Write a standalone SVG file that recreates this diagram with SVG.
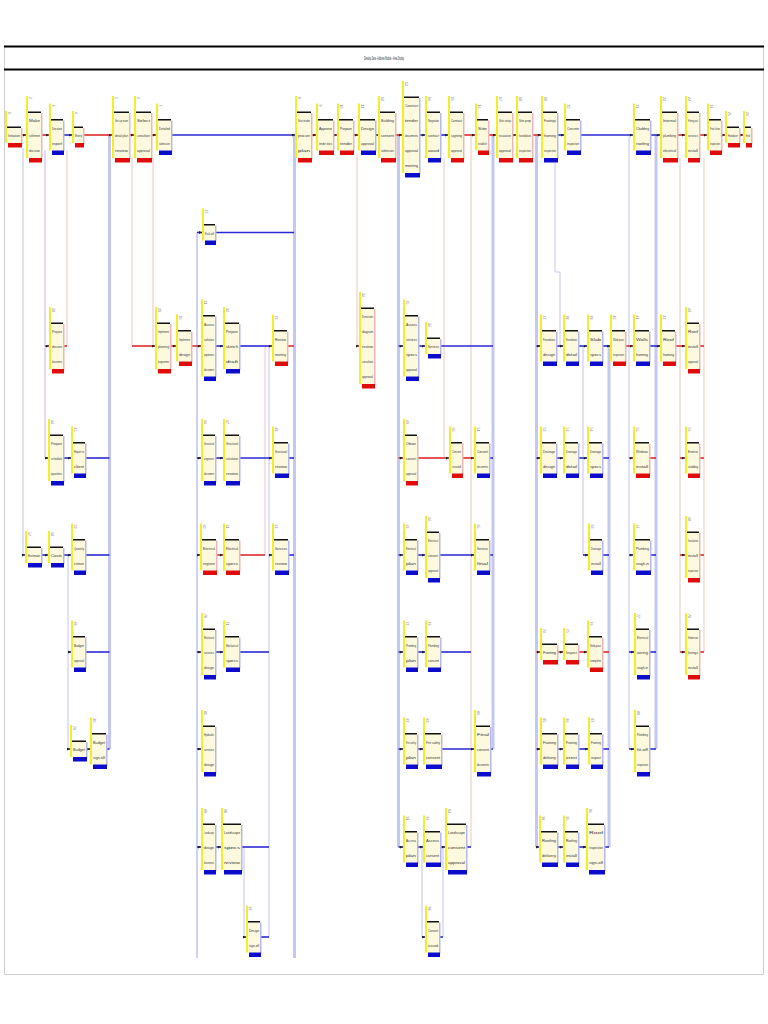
<svg xmlns="http://www.w3.org/2000/svg" width="768" height="1024" viewBox="0 0 768 1024">
<defs>
<style>
.yb{fill:#f2ee2a}.bx{fill:#fcf9df}.tl{fill:#111}.shb{fill:#b6b8e6}.shr{fill:#eab8b8}.br{fill:#e00c0c}.bb{fill:#0c0ccc}
.lb{font-family:"Liberation Sans Narrow","Liberation Sans",sans-serif;font-size:4.2px;fill:#333;text-anchor:middle}
.id{font-family:"Liberation Sans",sans-serif;font-size:3.4px;fill:#777}
.r{stroke:#e02a2a;stroke-width:1.6;fill:none}.b{stroke:#2a2ad2;stroke-width:1.6;fill:none}
.m{marker-end:url(#ah)}
.vb{stroke:#c2c2f0;stroke-width:1;fill:none}.vbt{stroke:#c6c6f2;stroke-width:3;fill:none}.vp{stroke:#f0c2c2;stroke-width:1;fill:none}.vpu{stroke:#d6bee8;stroke-width:1.2;fill:none}
.fr{stroke:#000;stroke-width:2}.fg{stroke:#cfcfcf;stroke-width:1}
.tt{font-family:"Liberation Sans Narrow","Liberation Sans",sans-serif;font-size:6px;fill:#222;text-anchor:middle}
</style>
<marker id="ah" markerWidth="3" markerHeight="3" refX="3" refY="1.5" orient="auto" markerUnits="userSpaceOnUse"><path d="M0,0L3,1.5L0,3z" fill="#222"/></marker>
</defs>
<rect width="768" height="1024" fill="#fff"/>
<g id="frame">
<line class="fg" x1="4.5" y1="46" x2="4.5" y2="975"/>
<line class="fg" x1="763.5" y1="46" x2="763.5" y2="975"/>
<line class="fg" x1="4" y1="974.5" x2="764" y2="974.5"/>
<line class="fr" x1="4" y1="46.5" x2="764" y2="46.5"/>
<line class="fr" x1="4" y1="69.5" x2="764" y2="69.5"/>
<text class="tt" x="384" y="60" textLength="40" lengthAdjust="spacingAndGlyphs">Develop Data - Address Module - Area Display</text>
</g>
<g id="connectors">
<path class="vb" d="M23 148V555"/>
<path class="vpu" d="M45 150V458"/>
<path class="vp" d="M67 150V346"/>
<path class="vb" d="M68 555V749"/>
<path class="vbt" d="M109.5 135V749"/>
<path class="vp" d="M132 158V346"/>
<path class="vp" d="M153 158V346"/>
<path class="vbt" d="M197 232.5V958" style="stroke-width:2;stroke:#d0d0f4"/>
<path class="vp" d="M265 346V555"/>
<path class="vb" d="M269 346V937"/>
<path class="vbt" d="M294.5 135V958"/>
<path class="vp" d="M357 155V346"/>
<path class="vbt" d="M398.5 135V847"/>
<path class="vp" d="M444 158V458"/>
<path class="vb" d="M443 847V937"/>
<path class="vp" d="M471 135V847"/>
<path class="vbt" d="M493 135V749"/>
<path class="vbt" d="M536.5 135V847"/>
<path class="vb" d="M555 163V272H560V346"/>
<path class="vb" d="M583 346V555"/>
<path class="vbt" d="M609 346V847"/>
<path class="vb" d="M629 135V749"/>
<path class="vbt" d="M656 135V749"/>
<path class="vp" d="M680 158V652"/>
<path class="vp" d="M704 158V652"/>
<path class="vb" d="M244 847V937"/>
<path class="vb" d="M422 847V937"/>
<path class="r m" d="M21.5 135H26"/><path class="r m" d="M41.5 135H49"/><path class="b m" d="M63.5 135H72"/><path class="r m" d="M83.5 135H112"/><path class="r m" d="M129.5 135H134"/><path class="r m" d="M151.5 135H156"/><path class="b m" d="M171.5 135H295"/><path class="r m" d="M311.5 135H316"/><path class="r m" d="M333.5 135H337"/><path class="r m" d="M353.5 135H358"/><path class="b m" d="M375.5 135H378"/><path class="r m" d="M395.5 135H402"/><path class="b m" d="M419.5 135H425"/><path class="b m" d="M440.5 135H448"/><path class="r m" d="M463.5 135H475"/><path class="r m" d="M488.5 135H496"/><path class="r m" d="M512.5 135H516"/><path class="r m" d="M532.5 135H541"/><path class="b m" d="M557.5 135H564"/><path class="b m" d="M580.5 135H633"/><path class="b m" d="M650.5 135H660"/><path class="r m" d="M677.5 135H685"/><path class="r m" d="M699.5 135H707"/><path class="r m" d="M721.5 135H725"/><path class="r m" d="M739.5 135H743"/>
<path class="b m" d="M197 232.5H202"/><path class="b" d="M215.5 232.5H294"/>
<path class="r m" d="M45 346H49"/><path class="r" d="M63.5 346H67"/><path class="r m" d="M132 346H155"/><path class="r m" d="M170.5 346H176"/><path class="r m" d="M191.5 346H201"/><path class="b m" d="M215.5 346H223"/><path class="b" d="M239.5 346H269"/><path class="r m" d="M269 346H272"/><path class="r" d="M287.5 346H294"/><path class="r m" d="M357 346H359"/><path class="b m" d="M398.5 346H403"/><path class="b m" d="M418.5 346H425"/><path class="b" d="M440.5 346H493"/><path class="b m" d="M536.5 346H540"/><path class="b m" d="M556.5 346H563"/><path class="b m" d="M578.5 346H587"/><path class="b m" d="M602.5 346H610"/><path class="r m" d="M625.5 346H633"/><path class="b m" d="M649.5 346H660"/><path class="r m" d="M675.5 346H685"/><path class="r" d="M699.5 346H704"/>
<path class="b m" d="M45 458H48"/><path class="b m" d="M63.5 458H71"/><path class="b" d="M85.5 458H109.5"/><path class="b m" d="M197 458H201"/><path class="b m" d="M215.5 458H223"/><path class="b m" d="M239.5 458H272"/><path class="b" d="M288.5 458H294"/><path class="r m" d="M398.5 458H403"/><path class="r m" d="M417.5 458H449"/><path class="r m" d="M462.5 458H474"/><path class="b" d="M489.5 458H493"/><path class="b m" d="M536.5 458H540"/><path class="b m" d="M556.5 458H563"/><path class="b m" d="M578.5 458H587"/><path class="b" d="M602.5 458H609"/><path class="r m" d="M629 458H633"/><path class="r" d="M649.5 458H656"/><path class="r m" d="M680 458H685"/><path class="r" d="M699.5 458H704"/>
<path class="b m" d="M23 555H25"/><path class="b m" d="M41.5 555H48"/><path class="b m" d="M63.5 555H71"/><path class="b" d="M85.5 555H109.5"/><path class="r m" d="M197 555H200"/><path class="r m" d="M216.5 555H223"/><path class="r" d="M239.5 555H265"/><path class="b m" d="M269 555H272"/><path class="b" d="M288.5 555H294"/><path class="b m" d="M398.5 555H403"/><path class="b m" d="M417.5 555H425"/><path class="b m" d="M439.5 555H474"/><path class="b" d="M489.5 555H493"/><path class="b m" d="M583 555H588"/><path class="b" d="M602.5 555H609"/><path class="b m" d="M629 555H633"/><path class="b" d="M650.5 555H656"/><path class="r m" d="M680 555H685"/><path class="r" d="M699.5 555H704"/>
<path class="b m" d="M68 652H71"/><path class="b" d="M85.5 652H109.5"/><path class="b m" d="M197 652H201"/><path class="b m" d="M215.5 652H223"/><path class="b" d="M239.5 652H269"/><path class="b m" d="M398.5 652H403"/><path class="b m" d="M417.5 652H425"/><path class="b" d="M440.5 652H471"/><path class="r m" d="M536.5 652H540"/><path class="r m" d="M557.5 652H563"/><path class="r m" d="M578.5 652H587"/><path class="r" d="M602.5 652H609"/><path class="b m" d="M629 652H634"/><path class="b" d="M649.5 652H656"/><path class="r m" d="M680 652H685"/><path class="r" d="M699.5 652H704"/>
<path class="b m" d="M68 749H70"/><path class="b m" d="M86.5 749H90"/><path class="b" d="M106.5 749H109.5"/><path class="b m" d="M197 749H201"/><path class="b m" d="M398.5 749H403"/><path class="b m" d="M417.5 749H423"/><path class="b m" d="M441.5 749H474"/><path class="b" d="M490.5 749H493"/><path class="b m" d="M536.5 749H540"/><path class="b m" d="M557.5 749H563"/><path class="b m" d="M578.5 749H588"/><path class="b" d="M602.5 749H609"/><path class="b m" d="M629 749H634"/><path class="b" d="M649.5 749H656"/>
<path class="b m" d="M197 847H201"/><path class="b m" d="M215.5 847H221"/><path class="b" d="M241.5 847H269"/><path class="b m" d="M398.5 847H403"/><path class="b m" d="M417.5 847H423"/><path class="b m" d="M440.5 847H445"/><path class="b" d="M466.5 847H471"/><path class="b m" d="M536.5 847H539"/><path class="b m" d="M557.5 847H563"/><path class="b m" d="M578.5 847H586"/><path class="b" d="M604.5 847H609"/>
<path class="b m" d="M244 937H246"/><path class="b" d="M260.5 937H269"/><path class="b m" d="M422 937H425"/><path class="b" d="M439.5 937H443"/>
</g>
<g id="n1"><rect class="yb" x="5" y="111" width="2" height="32"/><rect class="bx" x="7" y="127" width="14" height="16"/><rect class="shr" x="21" y="128" width="1.5" height="16"/><rect class="tl" x="7" y="126.5" width="14" height="1.5"/><rect class="br" x="8" y="143" width="14" height="4.5"/><text class="id" transform="translate(7.5,112) rotate(90)">1</text><text class="lb" x="14" y="137" textLength="12" lengthAdjust="spacingAndGlyphs">Initiation</text></g>
<g id="n2"><rect class="yb" x="26" y="96" width="2" height="62"/><rect class="bx" x="28" y="112" width="13" height="46"/><rect class="shr" x="41" y="113" width="1.5" height="46"/><rect class="tl" x="28" y="111.5" width="13" height="1.5"/><rect class="br" x="29" y="158" width="13" height="4.5"/><text class="id" transform="translate(28.5,97) rotate(90)">2</text><text class="lb" x="34.5" y="122" textLength="11" lengthAdjust="spacingAndGlyphs">Make</text><text class="lb" x="34.5" y="137" textLength="11" lengthAdjust="spacingAndGlyphs">settlement</text><text class="lb" x="34.5" y="152" textLength="11" lengthAdjust="spacingAndGlyphs">decision</text></g>
<g id="n3"><rect class="yb" x="49" y="103.5" width="2" height="47"/><rect class="bx" x="51" y="119.5" width="12" height="31"/><rect class="shb" x="63" y="120.5" width="1.5" height="31"/><rect class="tl" x="51" y="119" width="12" height="1.5"/><rect class="bb" x="52" y="150.5" width="12" height="4.5"/><text class="id" transform="translate(51.5,104.5) rotate(90)">3</text><text class="lb" x="57" y="129.5" textLength="10" lengthAdjust="spacingAndGlyphs">Decision</text><text class="lb" x="57" y="144.5" textLength="10" lengthAdjust="spacingAndGlyphs">report</text></g>
<g id="n4"><rect class="yb" x="72" y="111" width="2" height="32"/><rect class="bx" x="74" y="127" width="9" height="16"/><rect class="shr" x="83" y="128" width="1.5" height="16"/><rect class="tl" x="74" y="126.5" width="9" height="1.5"/><rect class="br" x="75" y="143" width="9" height="4.5"/><text class="id" transform="translate(74.5,112) rotate(90)">4</text><text class="lb" x="78.5" y="137" textLength="7" lengthAdjust="spacingAndGlyphs">Meeting</text></g>
<g id="n5"><rect class="yb" x="112" y="96" width="2" height="62"/><rect class="bx" x="114" y="112" width="15" height="46"/><rect class="shr" x="129" y="113" width="1.5" height="46"/><rect class="tl" x="114" y="111.5" width="15" height="1.5"/><rect class="br" x="115" y="158" width="15" height="4.5"/><text class="id" transform="translate(114.5,97) rotate(90)">5</text><text class="lb" x="121.5" y="122" textLength="13" lengthAdjust="spacingAndGlyphs">Set up team</text><text class="lb" x="121.5" y="137" textLength="13" lengthAdjust="spacingAndGlyphs">detail plan</text><text class="lb" x="121.5" y="152" textLength="13" lengthAdjust="spacingAndGlyphs">review</text></g>
<g id="n6"><rect class="yb" x="134" y="96" width="2" height="62"/><rect class="bx" x="136" y="112" width="15" height="46"/><rect class="shr" x="151" y="113" width="1.5" height="46"/><rect class="tl" x="136" y="111.5" width="15" height="1.5"/><rect class="br" x="137" y="158" width="15" height="4.5"/><text class="id" transform="translate(136.5,97) rotate(90)">6</text><text class="lb" x="143.5" y="122" textLength="13" lengthAdjust="spacingAndGlyphs">Select</text><text class="lb" x="143.5" y="137" textLength="13" lengthAdjust="spacingAndGlyphs">consultant</text><text class="lb" x="143.5" y="152" textLength="13" lengthAdjust="spacingAndGlyphs">approval</text></g>
<g id="n7"><rect class="yb" x="156" y="103.5" width="2" height="47"/><rect class="bx" x="158" y="119.5" width="13" height="31"/><rect class="shb" x="171" y="120.5" width="1.5" height="31"/><rect class="tl" x="158" y="119" width="13" height="1.5"/><rect class="bb" x="159" y="150.5" width="13" height="4.5"/><text class="id" transform="translate(158.5,104.5) rotate(90)">7</text><text class="lb" x="164.5" y="129.5" textLength="11" lengthAdjust="spacingAndGlyphs">Detailed</text><text class="lb" x="164.5" y="144.5" textLength="11" lengthAdjust="spacingAndGlyphs">submission</text></g>
<g id="n8"><rect class="yb" x="295" y="96" width="2" height="62"/><rect class="bx" x="297" y="112" width="14" height="46"/><rect class="shr" x="311" y="113" width="1.5" height="46"/><rect class="tl" x="297" y="111.5" width="14" height="1.5"/><rect class="br" x="298" y="158" width="14" height="4.5"/><text class="id" transform="translate(297.5,97) rotate(90)">8</text><text class="lb" x="304" y="122" textLength="12" lengthAdjust="spacingAndGlyphs">Start tender</text><text class="lb" x="304" y="137" textLength="12" lengthAdjust="spacingAndGlyphs">procure</text><text class="lb" x="304" y="152" textLength="12" lengthAdjust="spacingAndGlyphs">plan</text></g>
<g id="n9"><rect class="yb" x="316" y="103.5" width="2" height="47"/><rect class="bx" x="318" y="119.5" width="15" height="31"/><rect class="shr" x="333" y="120.5" width="1.5" height="31"/><rect class="tl" x="318" y="119" width="15" height="1.5"/><rect class="br" x="319" y="150.5" width="15" height="4.5"/><text class="id" transform="translate(318.5,104.5) rotate(90)">9</text><text class="lb" x="325.5" y="129.5" textLength="13" lengthAdjust="spacingAndGlyphs">Approve</text><text class="lb" x="325.5" y="144.5" textLength="13" lengthAdjust="spacingAndGlyphs">tender docs</text></g>
<g id="n10"><rect class="yb" x="337" y="103.5" width="2" height="47"/><rect class="bx" x="339" y="119.5" width="14" height="31"/><rect class="shr" x="353" y="120.5" width="1.5" height="31"/><rect class="tl" x="339" y="119" width="14" height="1.5"/><rect class="br" x="340" y="150.5" width="14" height="4.5"/><text class="id" transform="translate(339.5,104.5) rotate(90)">10</text><text class="lb" x="346" y="129.5" textLength="12" lengthAdjust="spacingAndGlyphs">Prepare</text><text class="lb" x="346" y="144.5" textLength="12" lengthAdjust="spacingAndGlyphs">tender</text></g>
<g id="n11"><rect class="yb" x="358" y="103.5" width="2" height="47"/><rect class="bx" x="360" y="119.5" width="15" height="31"/><rect class="shb" x="375" y="120.5" width="1.5" height="31"/><rect class="tl" x="360" y="119" width="15" height="1.5"/><rect class="bb" x="361" y="150.5" width="15" height="4.5"/><text class="id" transform="translate(360.5,104.5) rotate(90)">11</text><text class="lb" x="367.5" y="129.5" textLength="13" lengthAdjust="spacingAndGlyphs">Design</text><text class="lb" x="367.5" y="144.5" textLength="13" lengthAdjust="spacingAndGlyphs">approval</text></g>
<g id="n12"><rect class="yb" x="378" y="96" width="2" height="62"/><rect class="bx" x="380" y="112" width="15" height="46"/><rect class="shr" x="395" y="113" width="1.5" height="46"/><rect class="tl" x="380" y="111.5" width="15" height="1.5"/><rect class="br" x="381" y="158" width="15" height="4.5"/><text class="id" transform="translate(380.5,97) rotate(90)">12</text><text class="lb" x="387.5" y="122" textLength="13" lengthAdjust="spacingAndGlyphs">Building</text><text class="lb" x="387.5" y="137" textLength="13" lengthAdjust="spacingAndGlyphs">consent</text><text class="lb" x="387.5" y="152" textLength="13" lengthAdjust="spacingAndGlyphs">submission</text></g>
<g id="n13"><rect class="yb" x="402" y="81" width="2" height="92"/><rect class="bx" x="404" y="97" width="15" height="76"/><rect class="shb" x="419" y="98" width="1.5" height="76"/><rect class="tl" x="404" y="96.5" width="15" height="1.5"/><rect class="bb" x="405" y="173" width="15" height="4.5"/><text class="id" transform="translate(404.5,82) rotate(90)">13</text><text class="lb" x="411.5" y="107" textLength="13" lengthAdjust="spacingAndGlyphs">Construct</text><text class="lb" x="411.5" y="122" textLength="13" lengthAdjust="spacingAndGlyphs">tender</text><text class="lb" x="411.5" y="137" textLength="13" lengthAdjust="spacingAndGlyphs">documents</text><text class="lb" x="411.5" y="152" textLength="13" lengthAdjust="spacingAndGlyphs">approval</text><text class="lb" x="411.5" y="167" textLength="13" lengthAdjust="spacingAndGlyphs">meeting</text></g>
<g id="n14"><rect class="yb" x="425" y="96" width="2" height="62"/><rect class="bx" x="427" y="112" width="13" height="46"/><rect class="shb" x="440" y="113" width="1.5" height="46"/><rect class="tl" x="427" y="111.5" width="13" height="1.5"/><rect class="bb" x="428" y="158" width="13" height="4.5"/><text class="id" transform="translate(427.5,97) rotate(90)">14</text><text class="lb" x="433.5" y="122" textLength="11" lengthAdjust="spacingAndGlyphs">Negotiate</text><text class="lb" x="433.5" y="137" textLength="11" lengthAdjust="spacingAndGlyphs">contract</text><text class="lb" x="433.5" y="152" textLength="11" lengthAdjust="spacingAndGlyphs">award</text></g>
<g id="n15"><rect class="yb" x="448" y="96" width="2" height="62"/><rect class="bx" x="450" y="112" width="13" height="46"/><rect class="shr" x="463" y="113" width="1.5" height="46"/><rect class="tl" x="450" y="111.5" width="13" height="1.5"/><rect class="br" x="451" y="158" width="13" height="4.5"/><text class="id" transform="translate(450.5,97) rotate(90)">15</text><text class="lb" x="456.5" y="122" textLength="11" lengthAdjust="spacingAndGlyphs">Contract</text><text class="lb" x="456.5" y="137" textLength="11" lengthAdjust="spacingAndGlyphs">signing</text><text class="lb" x="456.5" y="152" textLength="11" lengthAdjust="spacingAndGlyphs">approval</text></g>
<g id="n16"><rect class="yb" x="475" y="103.5" width="2" height="47"/><rect class="bx" x="477" y="119.5" width="11" height="31"/><rect class="shr" x="488" y="120.5" width="1.5" height="31"/><rect class="tl" x="477" y="119" width="11" height="1.5"/><rect class="br" x="478" y="150.5" width="11" height="4.5"/><text class="id" transform="translate(477.5,104.5) rotate(90)">16</text><text class="lb" x="482.5" y="129.5" textLength="9" lengthAdjust="spacingAndGlyphs">Site</text><text class="lb" x="482.5" y="144.5" textLength="9" lengthAdjust="spacingAndGlyphs">establish</text></g>
<g id="n17"><rect class="yb" x="496" y="96" width="2" height="62"/><rect class="bx" x="498" y="112" width="14" height="46"/><rect class="shr" x="512" y="113" width="1.5" height="46"/><rect class="tl" x="498" y="111.5" width="14" height="1.5"/><rect class="br" x="499" y="158" width="14" height="4.5"/><text class="id" transform="translate(498.5,97) rotate(90)">17</text><text class="lb" x="505" y="122" textLength="12" lengthAdjust="spacingAndGlyphs">Site setup</text><text class="lb" x="505" y="137" textLength="12" lengthAdjust="spacingAndGlyphs">excavation</text><text class="lb" x="505" y="152" textLength="12" lengthAdjust="spacingAndGlyphs">approval</text></g>
<g id="n18"><rect class="yb" x="516" y="96" width="2" height="62"/><rect class="bx" x="518" y="112" width="14" height="46"/><rect class="shr" x="532" y="113" width="1.5" height="46"/><rect class="tl" x="518" y="111.5" width="14" height="1.5"/><rect class="br" x="519" y="158" width="14" height="4.5"/><text class="id" transform="translate(518.5,97) rotate(90)">18</text><text class="lb" x="525" y="122" textLength="12" lengthAdjust="spacingAndGlyphs">Site prep</text><text class="lb" x="525" y="137" textLength="12" lengthAdjust="spacingAndGlyphs">foundation</text><text class="lb" x="525" y="152" textLength="12" lengthAdjust="spacingAndGlyphs">inspection</text></g>
<g id="n19"><rect class="yb" x="541" y="96" width="2" height="62"/><rect class="bx" x="543" y="112" width="14" height="46"/><rect class="shb" x="557" y="113" width="1.5" height="46"/><rect class="tl" x="543" y="111.5" width="14" height="1.5"/><rect class="bb" x="544" y="158" width="14" height="4.5"/><text class="id" transform="translate(543.5,97) rotate(90)">19</text><text class="lb" x="550" y="122" textLength="12" lengthAdjust="spacingAndGlyphs">Footings</text><text class="lb" x="550" y="137" textLength="12" lengthAdjust="spacingAndGlyphs">framing</text><text class="lb" x="550" y="152" textLength="12" lengthAdjust="spacingAndGlyphs">inspection</text></g>
<g id="n20"><rect class="yb" x="564" y="103.5" width="2" height="47"/><rect class="bx" x="566" y="119.5" width="14" height="31"/><rect class="shb" x="580" y="120.5" width="1.5" height="31"/><rect class="tl" x="566" y="119" width="14" height="1.5"/><rect class="bb" x="567" y="150.5" width="14" height="4.5"/><text class="id" transform="translate(566.5,104.5) rotate(90)">20</text><text class="lb" x="573" y="129.5" textLength="12" lengthAdjust="spacingAndGlyphs">Concrete</text><text class="lb" x="573" y="144.5" textLength="12" lengthAdjust="spacingAndGlyphs">inspection</text></g>
<g id="n21"><rect class="yb" x="633" y="103.5" width="2" height="47"/><rect class="bx" x="635" y="119.5" width="15" height="31"/><rect class="shb" x="650" y="120.5" width="1.5" height="31"/><rect class="tl" x="635" y="119" width="15" height="1.5"/><rect class="bb" x="636" y="150.5" width="15" height="4.5"/><text class="id" transform="translate(635.5,104.5) rotate(90)">21</text><text class="lb" x="642.5" y="129.5" textLength="13" lengthAdjust="spacingAndGlyphs">Cladding</text><text class="lb" x="642.5" y="144.5" textLength="13" lengthAdjust="spacingAndGlyphs">roofing</text></g>
<g id="n22"><rect class="yb" x="660" y="96" width="2" height="62"/><rect class="bx" x="662" y="112" width="15" height="46"/><rect class="shr" x="677" y="113" width="1.5" height="46"/><rect class="tl" x="662" y="111.5" width="15" height="1.5"/><rect class="br" x="663" y="158" width="15" height="4.5"/><text class="id" transform="translate(662.5,97) rotate(90)">22</text><text class="lb" x="669.5" y="122" textLength="13" lengthAdjust="spacingAndGlyphs">Internal</text><text class="lb" x="669.5" y="137" textLength="13" lengthAdjust="spacingAndGlyphs">plumbing</text><text class="lb" x="669.5" y="152" textLength="13" lengthAdjust="spacingAndGlyphs">electrical</text></g>
<g id="n23"><rect class="yb" x="685" y="96" width="2" height="62"/><rect class="bx" x="687" y="112" width="12" height="46"/><rect class="shr" x="699" y="113" width="1.5" height="46"/><rect class="tl" x="687" y="111.5" width="12" height="1.5"/><rect class="br" x="688" y="158" width="12" height="4.5"/><text class="id" transform="translate(687.5,97) rotate(90)">23</text><text class="lb" x="693" y="122" textLength="10" lengthAdjust="spacingAndGlyphs">Fitting out</text><text class="lb" x="693" y="137" textLength="10" lengthAdjust="spacingAndGlyphs">services</text><text class="lb" x="693" y="152" textLength="10" lengthAdjust="spacingAndGlyphs">install</text></g>
<g id="n24"><rect class="yb" x="707" y="103.5" width="2" height="47"/><rect class="bx" x="709" y="119.5" width="12" height="31"/><rect class="shr" x="721" y="120.5" width="1.5" height="31"/><rect class="tl" x="709" y="119" width="12" height="1.5"/><rect class="br" x="710" y="150.5" width="12" height="4.5"/><text class="id" transform="translate(709.5,104.5) rotate(90)">24</text><text class="lb" x="715" y="129.5" textLength="10" lengthAdjust="spacingAndGlyphs">Final clean</text><text class="lb" x="715" y="144.5" textLength="10" lengthAdjust="spacingAndGlyphs">inspection</text></g>
<g id="n25"><rect class="yb" x="725" y="111" width="2" height="32"/><rect class="bx" x="727" y="127" width="12" height="16"/><rect class="shr" x="739" y="128" width="1.5" height="16"/><rect class="tl" x="727" y="126.5" width="12" height="1.5"/><rect class="br" x="728" y="143" width="12" height="4.5"/><text class="id" transform="translate(727.5,112) rotate(90)">25</text><text class="lb" x="733" y="137" textLength="10" lengthAdjust="spacingAndGlyphs">Handover</text></g>
<g id="n26"><rect class="yb" x="743" y="111" width="2" height="32"/><rect class="bx" x="745" y="127" width="6" height="16"/><rect class="shr" x="751" y="128" width="1.5" height="16"/><rect class="tl" x="745" y="126.5" width="6" height="1.5"/><rect class="br" x="746" y="143" width="6" height="4.5"/><text class="id" transform="translate(745.5,112) rotate(90)">26</text><text class="lb" x="748" y="137" textLength="4" lengthAdjust="spacingAndGlyphs">End</text></g>
<g id="n27"><rect class="yb" x="202" y="208.5" width="2" height="32"/><rect class="bx" x="204" y="224.5" width="11" height="16"/><rect class="shb" x="215" y="225.5" width="1.5" height="16"/><rect class="tl" x="204" y="224" width="11" height="1.5"/><rect class="bb" x="205" y="240.5" width="11" height="4.5"/><text class="id" transform="translate(204.5,209.5) rotate(90)">27</text><text class="lb" x="209.5" y="234.5" textLength="9" lengthAdjust="spacingAndGlyphs">Kick-off</text></g>
<g id="n28"><rect class="yb" x="49" y="307" width="2" height="62"/><rect class="bx" x="51" y="323" width="12" height="46"/><rect class="shr" x="63" y="324" width="1.5" height="46"/><rect class="tl" x="51" y="322.5" width="12" height="1.5"/><rect class="br" x="52" y="369" width="12" height="4.5"/><text class="id" transform="translate(51.5,308) rotate(90)">28</text><text class="lb" x="57" y="333" textLength="10" lengthAdjust="spacingAndGlyphs">Prepare</text><text class="lb" x="57" y="348" textLength="10" lengthAdjust="spacingAndGlyphs">decision</text><text class="lb" x="57" y="363" textLength="10" lengthAdjust="spacingAndGlyphs">documents</text></g>
<g id="n29"><rect class="yb" x="155" y="307" width="2" height="62"/><rect class="bx" x="157" y="323" width="13" height="46"/><rect class="shr" x="170" y="324" width="1.5" height="46"/><rect class="tl" x="157" y="322.5" width="13" height="1.5"/><rect class="br" x="158" y="369" width="13" height="4.5"/><text class="id" transform="translate(157.5,308) rotate(90)">29</text><text class="lb" x="163.5" y="333" textLength="11" lengthAdjust="spacingAndGlyphs">Implement</text><text class="lb" x="163.5" y="348" textLength="11" lengthAdjust="spacingAndGlyphs">planning</text><text class="lb" x="163.5" y="363" textLength="11" lengthAdjust="spacingAndGlyphs">programme</text></g>
<g id="n30"><rect class="yb" x="176" y="314.5" width="2" height="47"/><rect class="bx" x="178" y="330.5" width="13" height="31"/><rect class="shr" x="191" y="331.5" width="1.5" height="31"/><rect class="tl" x="178" y="330" width="13" height="1.5"/><rect class="br" x="179" y="361.5" width="13" height="4.5"/><text class="id" transform="translate(178.5,315.5) rotate(90)">30</text><text class="lb" x="184.5" y="340.5" textLength="11" lengthAdjust="spacingAndGlyphs">Implement</text><text class="lb" x="184.5" y="355.5" textLength="11" lengthAdjust="spacingAndGlyphs">design</text></g>
<g id="n31"><rect class="yb" x="201" y="299.5" width="2" height="77"/><rect class="bx" x="203" y="315.5" width="12" height="61"/><rect class="shb" x="215" y="316.5" width="1.5" height="61"/><rect class="tl" x="203" y="315" width="12" height="1.5"/><rect class="bb" x="204" y="376.5" width="12" height="4.5"/><text class="id" transform="translate(203.5,300.5) rotate(90)">31</text><text class="lb" x="209" y="325.5" textLength="10" lengthAdjust="spacingAndGlyphs">Assess</text><text class="lb" x="209" y="340.5" textLength="10" lengthAdjust="spacingAndGlyphs">solution</text><text class="lb" x="209" y="355.5" textLength="10" lengthAdjust="spacingAndGlyphs">options</text><text class="lb" x="209" y="370.5" textLength="10" lengthAdjust="spacingAndGlyphs">document</text></g>
<g id="n32"><rect class="yb" x="223" y="307" width="2" height="62"/><rect class="bx" x="225" y="323" width="14" height="46"/><rect class="shb" x="239" y="324" width="1.5" height="46"/><rect class="tl" x="225" y="322.5" width="14" height="1.5"/><rect class="bb" x="226" y="369" width="14" height="4.5"/><text class="id" transform="translate(225.5,308) rotate(90)">32</text><text class="lb" x="232" y="333" textLength="12" lengthAdjust="spacingAndGlyphs">Prepare</text><text class="lb" x="232" y="348" textLength="12" lengthAdjust="spacingAndGlyphs">sketch</text><text class="lb" x="232" y="363" textLength="12" lengthAdjust="spacingAndGlyphs">draft</text></g>
<g id="n33"><rect class="yb" x="272" y="314.5" width="2" height="47"/><rect class="bx" x="274" y="330.5" width="13" height="31"/><rect class="shr" x="287" y="331.5" width="1.5" height="31"/><rect class="tl" x="274" y="330" width="13" height="1.5"/><rect class="br" x="275" y="361.5" width="13" height="4.5"/><text class="id" transform="translate(274.5,315.5) rotate(90)">33</text><text class="lb" x="280.5" y="340.5" textLength="11" lengthAdjust="spacingAndGlyphs">Review</text><text class="lb" x="280.5" y="355.5" textLength="11" lengthAdjust="spacingAndGlyphs">meeting</text></g>
<g id="n34"><rect class="yb" x="359" y="292" width="2" height="92"/><rect class="bx" x="361" y="308" width="13" height="76"/><rect class="shr" x="374" y="309" width="1.5" height="76"/><rect class="tl" x="361" y="307.5" width="13" height="1.5"/><rect class="br" x="362" y="384" width="13" height="4.5"/><text class="id" transform="translate(361.5,293) rotate(90)">34</text><text class="lb" x="367.5" y="318" textLength="11" lengthAdjust="spacingAndGlyphs">Direction</text><text class="lb" x="367.5" y="333" textLength="11" lengthAdjust="spacingAndGlyphs">diagram</text><text class="lb" x="367.5" y="348" textLength="11" lengthAdjust="spacingAndGlyphs">review</text><text class="lb" x="367.5" y="363" textLength="11" lengthAdjust="spacingAndGlyphs">consultant</text><text class="lb" x="367.5" y="378" textLength="11" lengthAdjust="spacingAndGlyphs">approval</text></g>
<g id="n35"><rect class="yb" x="403" y="299.5" width="2" height="77"/><rect class="bx" x="405" y="315.5" width="13" height="61"/><rect class="shb" x="418" y="316.5" width="1.5" height="61"/><rect class="tl" x="405" y="315" width="13" height="1.5"/><rect class="bb" x="406" y="376.5" width="13" height="4.5"/><text class="id" transform="translate(405.5,300.5) rotate(90)">35</text><text class="lb" x="411.5" y="325.5" textLength="11" lengthAdjust="spacingAndGlyphs">Assess</text><text class="lb" x="411.5" y="340.5" textLength="11" lengthAdjust="spacingAndGlyphs">services</text><text class="lb" x="411.5" y="355.5" textLength="11" lengthAdjust="spacingAndGlyphs">specs</text><text class="lb" x="411.5" y="370.5" textLength="11" lengthAdjust="spacingAndGlyphs">approval</text></g>
<g id="n36"><rect class="yb" x="425" y="322" width="2" height="32"/><rect class="bx" x="427" y="338" width="13" height="16"/><rect class="shb" x="440" y="339" width="1.5" height="16"/><rect class="tl" x="427" y="337.5" width="13" height="1.5"/><rect class="bb" x="428" y="354" width="13" height="4.5"/><text class="id" transform="translate(427.5,323) rotate(90)">36</text><text class="lb" x="433.5" y="348" textLength="11" lengthAdjust="spacingAndGlyphs">Services</text></g>
<g id="n37"><rect class="yb" x="540" y="314.5" width="2" height="47"/><rect class="bx" x="542" y="330.5" width="14" height="31"/><rect class="shb" x="556" y="331.5" width="1.5" height="31"/><rect class="tl" x="542" y="330" width="14" height="1.5"/><rect class="bb" x="543" y="361.5" width="14" height="4.5"/><text class="id" transform="translate(542.5,315.5) rotate(90)">37</text><text class="lb" x="549" y="340.5" textLength="12" lengthAdjust="spacingAndGlyphs">Foundation</text><text class="lb" x="549" y="355.5" textLength="12" lengthAdjust="spacingAndGlyphs">design</text></g>
<g id="n38"><rect class="yb" x="563" y="314.5" width="2" height="47"/><rect class="bx" x="565" y="330.5" width="13" height="31"/><rect class="shb" x="578" y="331.5" width="1.5" height="31"/><rect class="tl" x="565" y="330" width="13" height="1.5"/><rect class="bb" x="566" y="361.5" width="13" height="4.5"/><text class="id" transform="translate(565.5,315.5) rotate(90)">38</text><text class="lb" x="571.5" y="340.5" textLength="11" lengthAdjust="spacingAndGlyphs">Foundation</text><text class="lb" x="571.5" y="355.5" textLength="11" lengthAdjust="spacingAndGlyphs">detail</text></g>
<g id="n39"><rect class="yb" x="587" y="314.5" width="2" height="47"/><rect class="bx" x="589" y="330.5" width="13" height="31"/><rect class="shb" x="602" y="331.5" width="1.5" height="31"/><rect class="tl" x="589" y="330" width="13" height="1.5"/><rect class="bb" x="590" y="361.5" width="13" height="4.5"/><text class="id" transform="translate(589.5,315.5) rotate(90)">39</text><text class="lb" x="595.5" y="340.5" textLength="11" lengthAdjust="spacingAndGlyphs">Slab</text><text class="lb" x="595.5" y="355.5" textLength="11" lengthAdjust="spacingAndGlyphs">specs</text></g>
<g id="n40"><rect class="yb" x="610" y="314.5" width="2" height="47"/><rect class="bx" x="612" y="330.5" width="13" height="31"/><rect class="shr" x="625" y="331.5" width="1.5" height="31"/><rect class="tl" x="612" y="330" width="13" height="1.5"/><rect class="br" x="613" y="361.5" width="13" height="4.5"/><text class="id" transform="translate(612.5,315.5) rotate(90)">40</text><text class="lb" x="618.5" y="340.5" textLength="11" lengthAdjust="spacingAndGlyphs">Slab pour</text><text class="lb" x="618.5" y="355.5" textLength="11" lengthAdjust="spacingAndGlyphs">inspection</text></g>
<g id="n41"><rect class="yb" x="633" y="314.5" width="2" height="47"/><rect class="bx" x="635" y="330.5" width="14" height="31"/><rect class="shb" x="649" y="331.5" width="1.5" height="31"/><rect class="tl" x="635" y="330" width="14" height="1.5"/><rect class="bb" x="636" y="361.5" width="14" height="4.5"/><text class="id" transform="translate(635.5,315.5) rotate(90)">41</text><text class="lb" x="642" y="340.5" textLength="12" lengthAdjust="spacingAndGlyphs">Walls</text><text class="lb" x="642" y="355.5" textLength="12" lengthAdjust="spacingAndGlyphs">framing</text></g>
<g id="n42"><rect class="yb" x="660" y="314.5" width="2" height="47"/><rect class="bx" x="662" y="330.5" width="13" height="31"/><rect class="shr" x="675" y="331.5" width="1.5" height="31"/><rect class="tl" x="662" y="330" width="13" height="1.5"/><rect class="br" x="663" y="361.5" width="13" height="4.5"/><text class="id" transform="translate(662.5,315.5) rotate(90)">42</text><text class="lb" x="668.5" y="340.5" textLength="11" lengthAdjust="spacingAndGlyphs">Roof</text><text class="lb" x="668.5" y="355.5" textLength="11" lengthAdjust="spacingAndGlyphs">framing</text></g>
<g id="n43"><rect class="yb" x="685" y="307" width="2" height="62"/><rect class="bx" x="687" y="323" width="12" height="46"/><rect class="shr" x="699" y="324" width="1.5" height="46"/><rect class="tl" x="687" y="322.5" width="12" height="1.5"/><rect class="br" x="688" y="369" width="12" height="4.5"/><text class="id" transform="translate(687.5,308) rotate(90)">43</text><text class="lb" x="693" y="333" textLength="10" lengthAdjust="spacingAndGlyphs">Roof</text><text class="lb" x="693" y="348" textLength="10" lengthAdjust="spacingAndGlyphs">install</text><text class="lb" x="693" y="363" textLength="10" lengthAdjust="spacingAndGlyphs">approval</text></g>
<g id="n44"><rect class="yb" x="48" y="419" width="2" height="62"/><rect class="bx" x="50" y="435" width="13" height="46"/><rect class="shb" x="63" y="436" width="1.5" height="46"/><rect class="tl" x="50" y="434.5" width="13" height="1.5"/><rect class="bb" x="51" y="481" width="13" height="4.5"/><text class="id" transform="translate(50.5,420) rotate(90)">44</text><text class="lb" x="56.5" y="445" textLength="11" lengthAdjust="spacingAndGlyphs">Prepare</text><text class="lb" x="56.5" y="460" textLength="11" lengthAdjust="spacingAndGlyphs">schedule</text><text class="lb" x="56.5" y="475" textLength="11" lengthAdjust="spacingAndGlyphs">quantities</text></g>
<g id="n45"><rect class="yb" x="71" y="426.5" width="2" height="47"/><rect class="bx" x="73" y="442.5" width="12" height="31"/><rect class="shb" x="85" y="443.5" width="1.5" height="31"/><rect class="tl" x="73" y="442" width="12" height="1.5"/><rect class="bb" x="74" y="473.5" width="12" height="4.5"/><text class="id" transform="translate(73.5,427.5) rotate(90)">45</text><text class="lb" x="79" y="452.5" textLength="10" lengthAdjust="spacingAndGlyphs">Report to</text><text class="lb" x="79" y="467.5" textLength="10" lengthAdjust="spacingAndGlyphs">client</text></g>
<g id="n46"><rect class="yb" x="201" y="419" width="2" height="62"/><rect class="bx" x="203" y="435" width="12" height="46"/><rect class="shb" x="215" y="436" width="1.5" height="46"/><rect class="tl" x="203" y="434.5" width="12" height="1.5"/><rect class="bb" x="204" y="481" width="12" height="4.5"/><text class="id" transform="translate(203.5,420) rotate(90)">46</text><text class="lb" x="209" y="445" textLength="10" lengthAdjust="spacingAndGlyphs">Structural</text><text class="lb" x="209" y="460" textLength="10" lengthAdjust="spacingAndGlyphs">engineer</text><text class="lb" x="209" y="475" textLength="10" lengthAdjust="spacingAndGlyphs">document</text></g>
<g id="n47"><rect class="yb" x="223" y="419" width="2" height="62"/><rect class="bx" x="225" y="435" width="14" height="46"/><rect class="shb" x="239" y="436" width="1.5" height="46"/><rect class="tl" x="225" y="434.5" width="14" height="1.5"/><rect class="bb" x="226" y="481" width="14" height="4.5"/><text class="id" transform="translate(225.5,420) rotate(90)">47</text><text class="lb" x="232" y="445" textLength="12" lengthAdjust="spacingAndGlyphs">Structural</text><text class="lb" x="232" y="460" textLength="12" lengthAdjust="spacingAndGlyphs">calculation</text><text class="lb" x="232" y="475" textLength="12" lengthAdjust="spacingAndGlyphs">review</text></g>
<g id="n48"><rect class="yb" x="272" y="426.5" width="2" height="47"/><rect class="bx" x="274" y="442.5" width="14" height="31"/><rect class="shb" x="288" y="443.5" width="1.5" height="31"/><rect class="tl" x="274" y="442" width="14" height="1.5"/><rect class="bb" x="275" y="473.5" width="14" height="4.5"/><text class="id" transform="translate(274.5,427.5) rotate(90)">48</text><text class="lb" x="281" y="452.5" textLength="12" lengthAdjust="spacingAndGlyphs">Structural</text><text class="lb" x="281" y="467.5" textLength="12" lengthAdjust="spacingAndGlyphs">review</text></g>
<g id="n49"><rect class="yb" x="403" y="419" width="2" height="62"/><rect class="bx" x="405" y="435" width="12" height="46"/><rect class="shr" x="417" y="436" width="1.5" height="46"/><rect class="tl" x="405" y="434.5" width="12" height="1.5"/><rect class="br" x="406" y="481" width="12" height="4.5"/><text class="id" transform="translate(405.5,420) rotate(90)">49</text><text class="lb" x="411" y="445" textLength="10" lengthAdjust="spacingAndGlyphs">Obtain</text><text class="lb" x="411" y="460" textLength="10" lengthAdjust="spacingAndGlyphs">consent</text><text class="lb" x="411" y="475" textLength="10" lengthAdjust="spacingAndGlyphs">approval</text></g>
<g id="n50"><rect class="yb" x="449" y="426.5" width="2" height="47"/><rect class="bx" x="451" y="442.5" width="11" height="31"/><rect class="shr" x="462" y="443.5" width="1.5" height="31"/><rect class="tl" x="451" y="442" width="11" height="1.5"/><rect class="br" x="452" y="473.5" width="11" height="4.5"/><text class="id" transform="translate(451.5,427.5) rotate(90)">50</text><text class="lb" x="456.5" y="452.5" textLength="9" lengthAdjust="spacingAndGlyphs">Consent</text><text class="lb" x="456.5" y="467.5" textLength="9" lengthAdjust="spacingAndGlyphs">issued</text></g>
<g id="n51"><rect class="yb" x="474" y="426.5" width="2" height="47"/><rect class="bx" x="476" y="442.5" width="13" height="31"/><rect class="shb" x="489" y="443.5" width="1.5" height="31"/><rect class="tl" x="476" y="442" width="13" height="1.5"/><rect class="bb" x="477" y="473.5" width="13" height="4.5"/><text class="id" transform="translate(476.5,427.5) rotate(90)">51</text><text class="lb" x="482.5" y="452.5" textLength="11" lengthAdjust="spacingAndGlyphs">Consent</text><text class="lb" x="482.5" y="467.5" textLength="11" lengthAdjust="spacingAndGlyphs">documents</text></g>
<g id="n52"><rect class="yb" x="540" y="426.5" width="2" height="47"/><rect class="bx" x="542" y="442.5" width="14" height="31"/><rect class="shb" x="556" y="443.5" width="1.5" height="31"/><rect class="tl" x="542" y="442" width="14" height="1.5"/><rect class="bb" x="543" y="473.5" width="14" height="4.5"/><text class="id" transform="translate(542.5,427.5) rotate(90)">52</text><text class="lb" x="549" y="452.5" textLength="12" lengthAdjust="spacingAndGlyphs">Drainage</text><text class="lb" x="549" y="467.5" textLength="12" lengthAdjust="spacingAndGlyphs">design</text></g>
<g id="n53"><rect class="yb" x="563" y="426.5" width="2" height="47"/><rect class="bx" x="565" y="442.5" width="13" height="31"/><rect class="shb" x="578" y="443.5" width="1.5" height="31"/><rect class="tl" x="565" y="442" width="13" height="1.5"/><rect class="bb" x="566" y="473.5" width="13" height="4.5"/><text class="id" transform="translate(565.5,427.5) rotate(90)">53</text><text class="lb" x="571.5" y="452.5" textLength="11" lengthAdjust="spacingAndGlyphs">Drainage</text><text class="lb" x="571.5" y="467.5" textLength="11" lengthAdjust="spacingAndGlyphs">detail</text></g>
<g id="n54"><rect class="yb" x="587" y="426.5" width="2" height="47"/><rect class="bx" x="589" y="442.5" width="13" height="31"/><rect class="shb" x="602" y="443.5" width="1.5" height="31"/><rect class="tl" x="589" y="442" width="13" height="1.5"/><rect class="bb" x="590" y="473.5" width="13" height="4.5"/><text class="id" transform="translate(589.5,427.5) rotate(90)">54</text><text class="lb" x="595.5" y="452.5" textLength="11" lengthAdjust="spacingAndGlyphs">Drainage</text><text class="lb" x="595.5" y="467.5" textLength="11" lengthAdjust="spacingAndGlyphs">specs</text></g>
<g id="n55"><rect class="yb" x="633" y="426.5" width="2" height="47"/><rect class="bx" x="635" y="442.5" width="14" height="31"/><rect class="shr" x="649" y="443.5" width="1.5" height="31"/><rect class="tl" x="635" y="442" width="14" height="1.5"/><rect class="br" x="636" y="473.5" width="14" height="4.5"/><text class="id" transform="translate(635.5,427.5) rotate(90)">55</text><text class="lb" x="642" y="452.5" textLength="12" lengthAdjust="spacingAndGlyphs">Windows</text><text class="lb" x="642" y="467.5" textLength="12" lengthAdjust="spacingAndGlyphs">install</text></g>
<g id="n56"><rect class="yb" x="685" y="426.5" width="2" height="47"/><rect class="bx" x="687" y="442.5" width="12" height="31"/><rect class="shr" x="699" y="443.5" width="1.5" height="31"/><rect class="tl" x="687" y="442" width="12" height="1.5"/><rect class="br" x="688" y="473.5" width="12" height="4.5"/><text class="id" transform="translate(687.5,427.5) rotate(90)">56</text><text class="lb" x="693" y="452.5" textLength="10" lengthAdjust="spacingAndGlyphs">Exterior</text><text class="lb" x="693" y="467.5" textLength="10" lengthAdjust="spacingAndGlyphs">cladding</text></g>
<g id="n57"><rect class="yb" x="25" y="531" width="2" height="32"/><rect class="bx" x="27" y="547" width="14" height="16"/><rect class="shb" x="41" y="548" width="1.5" height="16"/><rect class="tl" x="27" y="546.5" width="14" height="1.5"/><rect class="bb" x="28" y="563" width="14" height="4.5"/><text class="id" transform="translate(27.5,532) rotate(90)">57</text><text class="lb" x="34" y="557" textLength="12" lengthAdjust="spacingAndGlyphs">Estimate</text></g>
<g id="n58"><rect class="yb" x="48" y="531" width="2" height="32"/><rect class="bx" x="50" y="547" width="13" height="16"/><rect class="shb" x="63" y="548" width="1.5" height="16"/><rect class="tl" x="50" y="546.5" width="13" height="1.5"/><rect class="bb" x="51" y="563" width="13" height="4.5"/><text class="id" transform="translate(50.5,532) rotate(90)">58</text><text class="lb" x="56.5" y="557" textLength="11" lengthAdjust="spacingAndGlyphs">Costs</text></g>
<g id="n59"><rect class="yb" x="71" y="523.5" width="2" height="47"/><rect class="bx" x="73" y="539.5" width="12" height="31"/><rect class="shb" x="85" y="540.5" width="1.5" height="31"/><rect class="tl" x="73" y="539" width="12" height="1.5"/><rect class="bb" x="74" y="570.5" width="12" height="4.5"/><text class="id" transform="translate(73.5,524.5) rotate(90)">59</text><text class="lb" x="79" y="549.5" textLength="10" lengthAdjust="spacingAndGlyphs">Quantity</text><text class="lb" x="79" y="564.5" textLength="10" lengthAdjust="spacingAndGlyphs">estimate</text></g>
<g id="n60"><rect class="yb" x="200" y="523.5" width="2" height="47"/><rect class="bx" x="202" y="539.5" width="14" height="31"/><rect class="shr" x="216" y="540.5" width="1.5" height="31"/><rect class="tl" x="202" y="539" width="14" height="1.5"/><rect class="br" x="203" y="570.5" width="14" height="4.5"/><text class="id" transform="translate(202.5,524.5) rotate(90)">60</text><text class="lb" x="209" y="549.5" textLength="12" lengthAdjust="spacingAndGlyphs">Electrical</text><text class="lb" x="209" y="564.5" textLength="12" lengthAdjust="spacingAndGlyphs">engineer</text></g>
<g id="n61"><rect class="yb" x="223" y="523.5" width="2" height="47"/><rect class="bx" x="225" y="539.5" width="14" height="31"/><rect class="shr" x="239" y="540.5" width="1.5" height="31"/><rect class="tl" x="225" y="539" width="14" height="1.5"/><rect class="br" x="226" y="570.5" width="14" height="4.5"/><text class="id" transform="translate(225.5,524.5) rotate(90)">61</text><text class="lb" x="232" y="549.5" textLength="12" lengthAdjust="spacingAndGlyphs">Electrical</text><text class="lb" x="232" y="564.5" textLength="12" lengthAdjust="spacingAndGlyphs">specs</text></g>
<g id="n62"><rect class="yb" x="272" y="523.5" width="2" height="47"/><rect class="bx" x="274" y="539.5" width="14" height="31"/><rect class="shb" x="288" y="540.5" width="1.5" height="31"/><rect class="tl" x="274" y="539" width="14" height="1.5"/><rect class="bb" x="275" y="570.5" width="14" height="4.5"/><text class="id" transform="translate(274.5,524.5) rotate(90)">62</text><text class="lb" x="281" y="549.5" textLength="12" lengthAdjust="spacingAndGlyphs">Services</text><text class="lb" x="281" y="564.5" textLength="12" lengthAdjust="spacingAndGlyphs">review</text></g>
<g id="n63"><rect class="yb" x="403" y="523.5" width="2" height="47"/><rect class="bx" x="405" y="539.5" width="12" height="31"/><rect class="shb" x="417" y="540.5" width="1.5" height="31"/><rect class="tl" x="405" y="539" width="12" height="1.5"/><rect class="bb" x="406" y="570.5" width="12" height="4.5"/><text class="id" transform="translate(405.5,524.5) rotate(90)">63</text><text class="lb" x="411" y="549.5" textLength="10" lengthAdjust="spacingAndGlyphs">Electrical</text><text class="lb" x="411" y="564.5" textLength="10" lengthAdjust="spacingAndGlyphs">plan</text></g>
<g id="n64"><rect class="yb" x="425" y="516" width="2" height="62"/><rect class="bx" x="427" y="532" width="12" height="46"/><rect class="shb" x="439" y="533" width="1.5" height="46"/><rect class="tl" x="427" y="531.5" width="12" height="1.5"/><rect class="bb" x="428" y="578" width="12" height="4.5"/><text class="id" transform="translate(427.5,517) rotate(90)">64</text><text class="lb" x="433" y="542" textLength="10" lengthAdjust="spacingAndGlyphs">Electrical</text><text class="lb" x="433" y="557" textLength="10" lengthAdjust="spacingAndGlyphs">consent</text><text class="lb" x="433" y="572" textLength="10" lengthAdjust="spacingAndGlyphs">approval</text></g>
<g id="n65"><rect class="yb" x="474" y="523.5" width="2" height="47"/><rect class="bx" x="476" y="539.5" width="13" height="31"/><rect class="shb" x="489" y="540.5" width="1.5" height="31"/><rect class="tl" x="476" y="539" width="13" height="1.5"/><rect class="bb" x="477" y="570.5" width="13" height="4.5"/><text class="id" transform="translate(476.5,524.5) rotate(90)">65</text><text class="lb" x="482.5" y="549.5" textLength="11" lengthAdjust="spacingAndGlyphs">Services</text><text class="lb" x="482.5" y="564.5" textLength="11" lengthAdjust="spacingAndGlyphs">final</text></g>
<g id="n66"><rect class="yb" x="588" y="523.5" width="2" height="47"/><rect class="bx" x="590" y="539.5" width="12" height="31"/><rect class="shb" x="602" y="540.5" width="1.5" height="31"/><rect class="tl" x="590" y="539" width="12" height="1.5"/><rect class="bb" x="591" y="570.5" width="12" height="4.5"/><text class="id" transform="translate(590.5,524.5) rotate(90)">66</text><text class="lb" x="596" y="549.5" textLength="10" lengthAdjust="spacingAndGlyphs">Drainage</text><text class="lb" x="596" y="564.5" textLength="10" lengthAdjust="spacingAndGlyphs">install</text></g>
<g id="n67"><rect class="yb" x="633" y="523.5" width="2" height="47"/><rect class="bx" x="635" y="539.5" width="15" height="31"/><rect class="shb" x="650" y="540.5" width="1.5" height="31"/><rect class="tl" x="635" y="539" width="15" height="1.5"/><rect class="bb" x="636" y="570.5" width="15" height="4.5"/><text class="id" transform="translate(635.5,524.5) rotate(90)">67</text><text class="lb" x="642.5" y="549.5" textLength="13" lengthAdjust="spacingAndGlyphs">Plumbing</text><text class="lb" x="642.5" y="564.5" textLength="13" lengthAdjust="spacingAndGlyphs">rough-in</text></g>
<g id="n68"><rect class="yb" x="685" y="516" width="2" height="62"/><rect class="bx" x="687" y="532" width="12" height="46"/><rect class="shr" x="699" y="533" width="1.5" height="46"/><rect class="tl" x="687" y="531.5" width="12" height="1.5"/><rect class="br" x="688" y="578" width="12" height="4.5"/><text class="id" transform="translate(687.5,517) rotate(90)">68</text><text class="lb" x="693" y="542" textLength="10" lengthAdjust="spacingAndGlyphs">Insulation</text><text class="lb" x="693" y="557" textLength="10" lengthAdjust="spacingAndGlyphs">install</text><text class="lb" x="693" y="572" textLength="10" lengthAdjust="spacingAndGlyphs">inspection</text></g>
<g id="n69"><rect class="yb" x="71" y="620.5" width="2" height="47"/><rect class="bx" x="73" y="636.5" width="12" height="31"/><rect class="shb" x="85" y="637.5" width="1.5" height="31"/><rect class="tl" x="73" y="636" width="12" height="1.5"/><rect class="bb" x="74" y="667.5" width="12" height="4.5"/><text class="id" transform="translate(73.5,621.5) rotate(90)">69</text><text class="lb" x="79" y="646.5" textLength="10" lengthAdjust="spacingAndGlyphs">Budget</text><text class="lb" x="79" y="661.5" textLength="10" lengthAdjust="spacingAndGlyphs">approval</text></g>
<g id="n70"><rect class="yb" x="201" y="613" width="2" height="62"/><rect class="bx" x="203" y="629" width="12" height="46"/><rect class="shb" x="215" y="630" width="1.5" height="46"/><rect class="tl" x="203" y="628.5" width="12" height="1.5"/><rect class="bb" x="204" y="675" width="12" height="4.5"/><text class="id" transform="translate(203.5,614) rotate(90)">70</text><text class="lb" x="209" y="639" textLength="10" lengthAdjust="spacingAndGlyphs">Mechanical</text><text class="lb" x="209" y="654" textLength="10" lengthAdjust="spacingAndGlyphs">services</text><text class="lb" x="209" y="669" textLength="10" lengthAdjust="spacingAndGlyphs">design</text></g>
<g id="n71"><rect class="yb" x="223" y="620.5" width="2" height="47"/><rect class="bx" x="225" y="636.5" width="14" height="31"/><rect class="shb" x="239" y="637.5" width="1.5" height="31"/><rect class="tl" x="225" y="636" width="14" height="1.5"/><rect class="bb" x="226" y="667.5" width="14" height="4.5"/><text class="id" transform="translate(225.5,621.5) rotate(90)">71</text><text class="lb" x="232" y="646.5" textLength="12" lengthAdjust="spacingAndGlyphs">Mechanical</text><text class="lb" x="232" y="661.5" textLength="12" lengthAdjust="spacingAndGlyphs">specs</text></g>
<g id="n72"><rect class="yb" x="403" y="620.5" width="2" height="47"/><rect class="bx" x="405" y="636.5" width="12" height="31"/><rect class="shb" x="417" y="637.5" width="1.5" height="31"/><rect class="tl" x="405" y="636" width="12" height="1.5"/><rect class="bb" x="406" y="667.5" width="12" height="4.5"/><text class="id" transform="translate(405.5,621.5) rotate(90)">72</text><text class="lb" x="411" y="646.5" textLength="10" lengthAdjust="spacingAndGlyphs">Plumbing</text><text class="lb" x="411" y="661.5" textLength="10" lengthAdjust="spacingAndGlyphs">plan</text></g>
<g id="n73"><rect class="yb" x="425" y="620.5" width="2" height="47"/><rect class="bx" x="427" y="636.5" width="13" height="31"/><rect class="shb" x="440" y="637.5" width="1.5" height="31"/><rect class="tl" x="427" y="636" width="13" height="1.5"/><rect class="bb" x="428" y="667.5" width="13" height="4.5"/><text class="id" transform="translate(427.5,621.5) rotate(90)">73</text><text class="lb" x="433.5" y="646.5" textLength="11" lengthAdjust="spacingAndGlyphs">Plumbing</text><text class="lb" x="433.5" y="661.5" textLength="11" lengthAdjust="spacingAndGlyphs">consent</text></g>
<g id="n74"><rect class="yb" x="540" y="628" width="2" height="32"/><rect class="bx" x="542" y="644" width="15" height="16"/><rect class="shr" x="557" y="645" width="1.5" height="16"/><rect class="tl" x="542" y="643.5" width="15" height="1.5"/><rect class="br" x="543" y="660" width="15" height="4.5"/><text class="id" transform="translate(542.5,629) rotate(90)">74</text><text class="lb" x="549.5" y="654" textLength="13" lengthAdjust="spacingAndGlyphs">Footing</text></g>
<g id="n75"><rect class="yb" x="563" y="628" width="2" height="32"/><rect class="bx" x="565" y="644" width="13" height="16"/><rect class="shr" x="578" y="645" width="1.5" height="16"/><rect class="tl" x="565" y="643.5" width="13" height="1.5"/><rect class="br" x="566" y="660" width="13" height="4.5"/><text class="id" transform="translate(565.5,629) rotate(90)">75</text><text class="lb" x="571.5" y="654" textLength="11" lengthAdjust="spacingAndGlyphs">Inspect</text></g>
<g id="n76"><rect class="yb" x="587" y="620.5" width="2" height="47"/><rect class="bx" x="589" y="636.5" width="13" height="31"/><rect class="shr" x="602" y="637.5" width="1.5" height="31"/><rect class="tl" x="589" y="636" width="13" height="1.5"/><rect class="br" x="590" y="667.5" width="13" height="4.5"/><text class="id" transform="translate(589.5,621.5) rotate(90)">76</text><text class="lb" x="595.5" y="646.5" textLength="11" lengthAdjust="spacingAndGlyphs">Slab pour</text><text class="lb" x="595.5" y="661.5" textLength="11" lengthAdjust="spacingAndGlyphs">complete</text></g>
<g id="n77"><rect class="yb" x="634" y="613" width="2" height="62"/><rect class="bx" x="636" y="629" width="13" height="46"/><rect class="shb" x="649" y="630" width="1.5" height="46"/><rect class="tl" x="636" y="628.5" width="13" height="1.5"/><rect class="bb" x="637" y="675" width="13" height="4.5"/><text class="id" transform="translate(636.5,614) rotate(90)">77</text><text class="lb" x="642.5" y="639" textLength="11" lengthAdjust="spacingAndGlyphs">Electrical</text><text class="lb" x="642.5" y="654" textLength="11" lengthAdjust="spacingAndGlyphs">wiring</text><text class="lb" x="642.5" y="669" textLength="11" lengthAdjust="spacingAndGlyphs">rough-in</text></g>
<g id="n78"><rect class="yb" x="685" y="613" width="2" height="62"/><rect class="bx" x="687" y="629" width="12" height="46"/><rect class="shr" x="699" y="630" width="1.5" height="46"/><rect class="tl" x="687" y="628.5" width="12" height="1.5"/><rect class="br" x="688" y="675" width="12" height="4.5"/><text class="id" transform="translate(687.5,614) rotate(90)">78</text><text class="lb" x="693" y="639" textLength="10" lengthAdjust="spacingAndGlyphs">Interior</text><text class="lb" x="693" y="654" textLength="10" lengthAdjust="spacingAndGlyphs">linings</text><text class="lb" x="693" y="669" textLength="10" lengthAdjust="spacingAndGlyphs">install</text></g>
<g id="n79"><rect class="yb" x="70" y="725" width="2" height="32"/><rect class="bx" x="72" y="741" width="14" height="16"/><rect class="shb" x="86" y="742" width="1.5" height="16"/><rect class="tl" x="72" y="740.5" width="14" height="1.5"/><rect class="bb" x="73" y="757" width="14" height="4.5"/><text class="id" transform="translate(72.5,726) rotate(90)">79</text><text class="lb" x="79" y="751" textLength="12" lengthAdjust="spacingAndGlyphs">Budget</text></g>
<g id="n80"><rect class="yb" x="90" y="717.5" width="2" height="47"/><rect class="bx" x="92" y="733.5" width="14" height="31"/><rect class="shb" x="106" y="734.5" width="1.5" height="31"/><rect class="tl" x="92" y="733" width="14" height="1.5"/><rect class="bb" x="93" y="764.5" width="14" height="4.5"/><text class="id" transform="translate(92.5,718.5) rotate(90)">80</text><text class="lb" x="99" y="743.5" textLength="12" lengthAdjust="spacingAndGlyphs">Budget</text><text class="lb" x="99" y="758.5" textLength="12" lengthAdjust="spacingAndGlyphs">sign-off</text></g>
<g id="n81"><rect class="yb" x="201" y="710" width="2" height="62"/><rect class="bx" x="203" y="726" width="12" height="46"/><rect class="shb" x="215" y="727" width="1.5" height="46"/><rect class="tl" x="203" y="725.5" width="12" height="1.5"/><rect class="bb" x="204" y="772" width="12" height="4.5"/><text class="id" transform="translate(203.5,711) rotate(90)">81</text><text class="lb" x="209" y="736" textLength="10" lengthAdjust="spacingAndGlyphs">Hydraulic</text><text class="lb" x="209" y="751" textLength="10" lengthAdjust="spacingAndGlyphs">services</text><text class="lb" x="209" y="766" textLength="10" lengthAdjust="spacingAndGlyphs">design</text></g>
<g id="n82"><rect class="yb" x="403" y="717.5" width="2" height="47"/><rect class="bx" x="405" y="733.5" width="12" height="31"/><rect class="shb" x="417" y="734.5" width="1.5" height="31"/><rect class="tl" x="405" y="733" width="12" height="1.5"/><rect class="bb" x="406" y="764.5" width="12" height="4.5"/><text class="id" transform="translate(405.5,718.5) rotate(90)">82</text><text class="lb" x="411" y="743.5" textLength="10" lengthAdjust="spacingAndGlyphs">Fire safety</text><text class="lb" x="411" y="758.5" textLength="10" lengthAdjust="spacingAndGlyphs">plan</text></g>
<g id="n83"><rect class="yb" x="423" y="717.5" width="2" height="47"/><rect class="bx" x="425" y="733.5" width="16" height="31"/><rect class="shb" x="441" y="734.5" width="1.5" height="31"/><rect class="tl" x="425" y="733" width="16" height="1.5"/><rect class="bb" x="426" y="764.5" width="16" height="4.5"/><text class="id" transform="translate(425.5,718.5) rotate(90)">83</text><text class="lb" x="433" y="743.5" textLength="14" lengthAdjust="spacingAndGlyphs">Fire safety</text><text class="lb" x="433" y="758.5" textLength="14" lengthAdjust="spacingAndGlyphs">consent</text></g>
<g id="n84"><rect class="yb" x="474" y="710" width="2" height="62"/><rect class="bx" x="476" y="726" width="14" height="46"/><rect class="shb" x="490" y="727" width="1.5" height="46"/><rect class="tl" x="476" y="725.5" width="14" height="1.5"/><rect class="bb" x="477" y="772" width="14" height="4.5"/><text class="id" transform="translate(476.5,711) rotate(90)">84</text><text class="lb" x="483" y="736" textLength="12" lengthAdjust="spacingAndGlyphs">Final</text><text class="lb" x="483" y="751" textLength="12" lengthAdjust="spacingAndGlyphs">consent</text><text class="lb" x="483" y="766" textLength="12" lengthAdjust="spacingAndGlyphs">documents</text></g>
<g id="n85"><rect class="yb" x="540" y="717.5" width="2" height="47"/><rect class="bx" x="542" y="733.5" width="15" height="31"/><rect class="shb" x="557" y="734.5" width="1.5" height="31"/><rect class="tl" x="542" y="733" width="15" height="1.5"/><rect class="bb" x="543" y="764.5" width="15" height="4.5"/><text class="id" transform="translate(542.5,718.5) rotate(90)">85</text><text class="lb" x="549.5" y="743.5" textLength="13" lengthAdjust="spacingAndGlyphs">Framing</text><text class="lb" x="549.5" y="758.5" textLength="13" lengthAdjust="spacingAndGlyphs">delivery</text></g>
<g id="n86"><rect class="yb" x="563" y="717.5" width="2" height="47"/><rect class="bx" x="565" y="733.5" width="13" height="31"/><rect class="shb" x="578" y="734.5" width="1.5" height="31"/><rect class="tl" x="565" y="733" width="13" height="1.5"/><rect class="bb" x="566" y="764.5" width="13" height="4.5"/><text class="id" transform="translate(565.5,718.5) rotate(90)">86</text><text class="lb" x="571.5" y="743.5" textLength="11" lengthAdjust="spacingAndGlyphs">Framing</text><text class="lb" x="571.5" y="758.5" textLength="11" lengthAdjust="spacingAndGlyphs">erect</text></g>
<g id="n87"><rect class="yb" x="588" y="717.5" width="2" height="47"/><rect class="bx" x="590" y="733.5" width="12" height="31"/><rect class="shb" x="602" y="734.5" width="1.5" height="31"/><rect class="tl" x="590" y="733" width="12" height="1.5"/><rect class="bb" x="591" y="764.5" width="12" height="4.5"/><text class="id" transform="translate(590.5,718.5) rotate(90)">87</text><text class="lb" x="596" y="743.5" textLength="10" lengthAdjust="spacingAndGlyphs">Framing</text><text class="lb" x="596" y="758.5" textLength="10" lengthAdjust="spacingAndGlyphs">inspect</text></g>
<g id="n88"><rect class="yb" x="634" y="710" width="2" height="62"/><rect class="bx" x="636" y="726" width="13" height="46"/><rect class="shb" x="649" y="727" width="1.5" height="46"/><rect class="tl" x="636" y="725.5" width="13" height="1.5"/><rect class="bb" x="637" y="772" width="13" height="4.5"/><text class="id" transform="translate(636.5,711) rotate(90)">88</text><text class="lb" x="642.5" y="736" textLength="11" lengthAdjust="spacingAndGlyphs">Plumbing</text><text class="lb" x="642.5" y="751" textLength="11" lengthAdjust="spacingAndGlyphs">fit-off</text><text class="lb" x="642.5" y="766" textLength="11" lengthAdjust="spacingAndGlyphs">inspection</text></g>
<g id="n89"><rect class="yb" x="201" y="808" width="2" height="62"/><rect class="bx" x="203" y="824" width="12" height="46"/><rect class="shb" x="215" y="825" width="1.5" height="46"/><rect class="tl" x="203" y="823.5" width="12" height="1.5"/><rect class="bb" x="204" y="870" width="12" height="4.5"/><text class="id" transform="translate(203.5,809) rotate(90)">89</text><text class="lb" x="209" y="834" textLength="10" lengthAdjust="spacingAndGlyphs">Landscape</text><text class="lb" x="209" y="849" textLength="10" lengthAdjust="spacingAndGlyphs">design</text><text class="lb" x="209" y="864" textLength="10" lengthAdjust="spacingAndGlyphs">documents</text></g>
<g id="n90"><rect class="yb" x="221" y="808" width="2" height="62"/><rect class="bx" x="223" y="824" width="18" height="46"/><rect class="shb" x="241" y="825" width="1.5" height="46"/><rect class="tl" x="223" y="823.5" width="18" height="1.5"/><rect class="bb" x="224" y="870" width="18" height="4.5"/><text class="id" transform="translate(223.5,809) rotate(90)">90</text><text class="lb" x="232" y="834" textLength="16" lengthAdjust="spacingAndGlyphs">Landscape</text><text class="lb" x="232" y="849" textLength="16" lengthAdjust="spacingAndGlyphs">specs</text><text class="lb" x="232" y="864" textLength="16" lengthAdjust="spacingAndGlyphs">review</text></g>
<g id="n91"><rect class="yb" x="403" y="815.5" width="2" height="47"/><rect class="bx" x="405" y="831.5" width="12" height="31"/><rect class="shb" x="417" y="832.5" width="1.5" height="31"/><rect class="tl" x="405" y="831" width="12" height="1.5"/><rect class="bb" x="406" y="862.5" width="12" height="4.5"/><text class="id" transform="translate(405.5,816.5) rotate(90)">91</text><text class="lb" x="411" y="841.5" textLength="10" lengthAdjust="spacingAndGlyphs">Access</text><text class="lb" x="411" y="856.5" textLength="10" lengthAdjust="spacingAndGlyphs">plan</text></g>
<g id="n92"><rect class="yb" x="423" y="815.5" width="2" height="47"/><rect class="bx" x="425" y="831.5" width="15" height="31"/><rect class="shb" x="440" y="832.5" width="1.5" height="31"/><rect class="tl" x="425" y="831" width="15" height="1.5"/><rect class="bb" x="426" y="862.5" width="15" height="4.5"/><text class="id" transform="translate(425.5,816.5) rotate(90)">92</text><text class="lb" x="432.5" y="841.5" textLength="13" lengthAdjust="spacingAndGlyphs">Access</text><text class="lb" x="432.5" y="856.5" textLength="13" lengthAdjust="spacingAndGlyphs">consent</text></g>
<g id="n93"><rect class="yb" x="445" y="808" width="2" height="62"/><rect class="bx" x="447" y="824" width="19" height="46"/><rect class="shb" x="466" y="825" width="1.5" height="46"/><rect class="tl" x="447" y="823.5" width="19" height="1.5"/><rect class="bb" x="448" y="870" width="19" height="4.5"/><text class="id" transform="translate(447.5,809) rotate(90)">93</text><text class="lb" x="456.5" y="834" textLength="17" lengthAdjust="spacingAndGlyphs">Landscape</text><text class="lb" x="456.5" y="849" textLength="17" lengthAdjust="spacingAndGlyphs">consent</text><text class="lb" x="456.5" y="864" textLength="17" lengthAdjust="spacingAndGlyphs">approval</text></g>
<g id="n94"><rect class="yb" x="539" y="815.5" width="2" height="47"/><rect class="bx" x="541" y="831.5" width="16" height="31"/><rect class="shb" x="557" y="832.5" width="1.5" height="31"/><rect class="tl" x="541" y="831" width="16" height="1.5"/><rect class="bb" x="542" y="862.5" width="16" height="4.5"/><text class="id" transform="translate(541.5,816.5) rotate(90)">94</text><text class="lb" x="549" y="841.5" textLength="14" lengthAdjust="spacingAndGlyphs">Roofing</text><text class="lb" x="549" y="856.5" textLength="14" lengthAdjust="spacingAndGlyphs">delivery</text></g>
<g id="n95"><rect class="yb" x="563" y="815.5" width="2" height="47"/><rect class="bx" x="565" y="831.5" width="13" height="31"/><rect class="shb" x="578" y="832.5" width="1.5" height="31"/><rect class="tl" x="565" y="831" width="13" height="1.5"/><rect class="bb" x="566" y="862.5" width="13" height="4.5"/><text class="id" transform="translate(565.5,816.5) rotate(90)">95</text><text class="lb" x="571.5" y="841.5" textLength="11" lengthAdjust="spacingAndGlyphs">Roofing</text><text class="lb" x="571.5" y="856.5" textLength="11" lengthAdjust="spacingAndGlyphs">install</text></g>
<g id="n96"><rect class="yb" x="586" y="808" width="2" height="62"/><rect class="bx" x="588" y="824" width="16" height="46"/><rect class="shb" x="604" y="825" width="1.5" height="46"/><rect class="tl" x="588" y="823.5" width="16" height="1.5"/><rect class="bb" x="589" y="870" width="16" height="4.5"/><text class="id" transform="translate(588.5,809) rotate(90)">96</text><text class="lb" x="596" y="834" textLength="14" lengthAdjust="spacingAndGlyphs">Roof</text><text class="lb" x="596" y="849" textLength="14" lengthAdjust="spacingAndGlyphs">inspection</text><text class="lb" x="596" y="864" textLength="14" lengthAdjust="spacingAndGlyphs">sign-off</text></g>
<g id="n97"><rect class="yb" x="246" y="905.5" width="2" height="47"/><rect class="bx" x="248" y="921.5" width="12" height="31"/><rect class="shb" x="260" y="922.5" width="1.5" height="31"/><rect class="tl" x="248" y="921" width="12" height="1.5"/><rect class="bb" x="249" y="952.5" width="12" height="4.5"/><text class="id" transform="translate(248.5,906.5) rotate(90)">97</text><text class="lb" x="254" y="931.5" textLength="10" lengthAdjust="spacingAndGlyphs">Design</text><text class="lb" x="254" y="946.5" textLength="10" lengthAdjust="spacingAndGlyphs">sign-off</text></g>
<g id="n98"><rect class="yb" x="425" y="905.5" width="2" height="47"/><rect class="bx" x="427" y="921.5" width="12" height="31"/><rect class="shb" x="439" y="922.5" width="1.5" height="31"/><rect class="tl" x="427" y="921" width="12" height="1.5"/><rect class="bb" x="428" y="952.5" width="12" height="4.5"/><text class="id" transform="translate(427.5,906.5) rotate(90)">98</text><text class="lb" x="433" y="931.5" textLength="10" lengthAdjust="spacingAndGlyphs">Consent</text><text class="lb" x="433" y="946.5" textLength="10" lengthAdjust="spacingAndGlyphs">issued</text></g>
</svg>
